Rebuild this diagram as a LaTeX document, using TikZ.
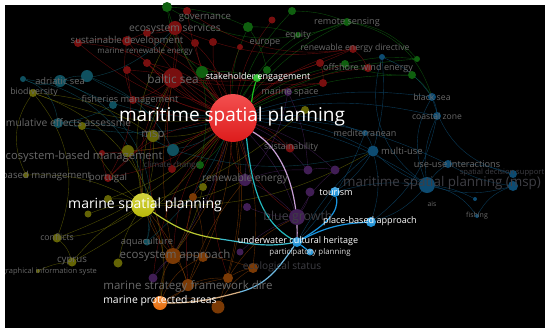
\documentclass[tikz,border=0pt]{standalone}
\usepackage{fontspec}
\setmainfont{Open Sans}
\definecolor{vred}{RGB}{240,30,30}
\definecolor{vgreen}{RGB}{30,190,30}
\definecolor{vblue}{RGB}{25,150,225}
\definecolor{vteal}{RGB}{30,160,190}
\definecolor{vyellow}{RGB}{200,200,10}
\definecolor{vpurple}{RGB}{130,60,170}
\definecolor{vorange}{RGB}{245,115,10}
\definecolor{lblgray}{RGB}{105,105,105}
\definecolor{lbldark}{RGB}{62,62,68}
\definecolor{tealink}{RGB}{35,185,190}
\definecolor{lavlink}{RGB}{200,160,215}
\definecolor{ylink}{RGB}{185,200,50}
\definecolor{clink}{RGB}{60,190,205}
\definecolor{olink}{RGB}{215,175,130}
\definecolor{blink}{RGB}{110,185,225}
\pgfdeclarelayer{back}
\pgfdeclarelayer{edges}
\pgfsetlayers{back,edges,main}

\begin{document}
\begin{tikzpicture}[x=1pt, y=-1pt,
	dot/.style={circle, inner sep=0pt, draw=none, fill=#1!50!black},
	hot/.style={circle, inner sep=0pt, draw=none, top color=#1!78!white, bottom color=#1!92!black},
	link/.style={#1!60!black, opacity=0.65, line width=0.4pt},
	hilink/.style={#1, line width=1.2pt},
	lbl/.style={inner sep=0pt, text=lblgray, font=\fontsize{#1}{#1}\selectfont},
	hl/.style={lbl=#1, text=white},
	faint/.style={lbl=#1, text=lbldark}]
	\useasboundingbox (0,0) rectangle (550,333);
	\begin{pgfonlayer}{back}
		\fill[white] (0,0) rectangle (550,333);
		\fill[black] (5,5) rectangle (545,328);
	\end{pgfonlayer}

	% red cluster
	\node[hot=vred, minimum size=48pt] (msplan) at (233,118) {};
	\node[dot=vred, minimum size=14pt] (esserv) at (175,28) {};
	\node[dot=vred, minimum size=20pt] (baltic) at (173,78) {};
	\node[dot=vred, minimum size=8pt] (gov) at (187,11) {};
	\node[dot=vred, minimum size=10pt] (susdev) at (127,41) {};
	\node[dot=vred, minimum size=8pt] (ra) at (78,43) {};
	\node[dot=vred, minimum size=8pt] (rb) at (147,33) {};
	\node[dot=vred, minimum size=8pt] (rc) at (195,43) {};
	\node[dot=vred, minimum size=8pt] (rd) at (213,42) {};
	\node[dot=vred, minimum size=6pt] (re) at (240,47) {};
	\node[dot=vred, minimum size=8pt] (rf) at (147,63) {};
	\node[dot=vred, minimum size=8pt] (rg) at (127,70) {};
	\node[dot=vred, minimum size=8pt] (fishm) at (133,100) {};
	\node[dot=vred, minimum size=8pt] (red) at (353,49) {};
	\node[dot=vred, minimum size=8pt] (rh) at (368,68) {};
	\node[dot=vred, minimum size=8pt] (ri) at (320,63) {};
	\node[dot=vred, minimum size=8pt] (rj) at (323,83) {};
	\node[dot=vred, minimum size=7pt] (rk) at (272,20) {};
	\node[dot=vred, minimum size=8pt] (portugal) at (108,178) {};
	\node[dot=vred, minimum size=6pt] (rl) at (102,153) {};
	\node[dot=vred, minimum size=8pt] (rm) at (172,169) {};
	\node[dot=vred, minimum size=9pt] (sust) at (290,148) {};
	% green cluster
	\node[hot=vgreen, minimum size=8pt] (stake) at (257,78) {};
	\node[dot=vgreen, minimum size=10pt] (ga) at (167,7) {};
	\node[dot=vgreen, minimum size=10pt] (gb) at (248,27) {};
	\node[dot=vgreen, minimum size=12pt] (gc) at (202,72) {};
	\node[dot=vgreen, minimum size=8pt] (gd) at (267,70) {};
	\node[dot=vgreen, minimum size=8pt] (ge) at (292,11) {};
	\node[dot=vgreen, minimum size=8pt] (remote) at (347,22) {};
	\node[dot=vgreen, minimum size=6pt] (equity) at (298,35) {};
	\node[dot=vgreen, minimum size=8pt] (offshore) at (345,64) {};
	\node[dot=vgreen, minimum size=6pt] (gf) at (417,59) {};
	\node[dot=vgreen, minimum size=8pt] (gg) at (412,75) {};
	\node[dot=vgreen, minimum size=8pt] (gh) at (200,165) {};
	% blue cluster
	\node[dot=vblue, minimum size=6pt] (ba) at (382,57) {};
	\node[dot=vblue, minimum size=8pt] (blacksea) at (432,97) {};
	\node[dot=vblue, minimum size=8pt] (coastal) at (437,116) {};
	\node[dot=vblue, minimum size=6pt] (medit) at (365,133) {};
	\node[dot=vblue, minimum size=11pt] (multiuse) at (373,151) {};
	\node[dot=vblue, minimum size=8pt] (useuse) at (448,164) {};
	\node[dot=vblue, minimum size=8pt] (sdss) at (513,174) {};
	\node[dot=vblue, minimum size=16pt] (mspmsp) at (427,185) {};
	\node[dot=vblue, minimum size=10pt] (bb) at (513,186) {};
	\node[dot=vblue, minimum size=4pt] (ais) at (475,199) {};
	\node[dot=vblue, minimum size=4pt] (fishing) at (477,216) {};
	\node[hot=vblue, minimum size=10pt] (tourism) at (335,192) {};
	\node[hot=vblue, minimum size=10pt] (place) at (371,222) {};
	\node[hot=vblue, minimum size=10pt] (uch) at (297,242) {};
	\node[hot=vblue, minimum size=7pt] (partic) at (310,252) {};
	% teal cluster
	\node[dot=vteal, minimum size=6pt] (ta) at (23,79) {};
	\node[dot=vteal, minimum size=12pt] (adriatic) at (60,81) {};
	\node[dot=vteal, minimum size=12pt] (tb) at (87,76) {};
	\node[dot=vteal, minimum size=8pt] (tc) at (113,105) {};
	\node[dot=vteal, minimum size=10pt] (cumul) at (58,123) {};
	\node[dot=vteal, minimum size=12pt] (te) at (173,150) {};
	\node[dot=vteal, minimum size=7pt] (aquac) at (147,242) {};
	% yellow cluster
	\node[hot=vyellow, minimum size=24pt] (mspl) at (143,205) {};
	\node[dot=vyellow, minimum size=8pt] (biodiv) at (33,93) {};
	\node[dot=vyellow, minimum size=8pt] (ya) at (82,126) {};
	\node[dot=vyellow, minimum size=12pt] (msp) at (153,136) {};
	\node[dot=vyellow, minimum size=12pt] (yb) at (128,151) {};
	\node[dot=vyellow, minimum size=6pt] (yc) at (26,175) {};
	\node[dot=vyellow, minimum size=8pt] (yd) at (108,199) {};
	\node[dot=vyellow, minimum size=8pt] (ye) at (203,187) {};
	\node[dot=vyellow, minimum size=9pt] (conflicts) at (57,238) {};
	\node[dot=vyellow, minimum size=9pt] (cyprus) at (72,262) {};
	\node[dot=vyellow, minimum size=4pt] (gis) at (38,271) {};
	\node[dot=vyellow, minimum size=9pt] (yf) at (118,263) {};
	\node[dot=vyellow, minimum size=7pt] (yg) at (88,214) {};
	\node[dot=vyellow, minimum size=8pt] (yh) at (305,110) {};
	% purple cluster
	\node[dot=vpurple, minimum size=8pt] (marsp) at (288,92) {};
	\node[dot=vpurple, minimum size=12pt] (renen) at (245,180) {};
	\node[dot=vpurple, minimum size=9pt] (pa) at (308,170) {};
	\node[dot=vpurple, minimum size=9pt] (pb) at (335,170) {};
	\node[dot=vpurple, minimum size=9pt] (pc) at (310,192) {};
	\node[dot=vpurple, minimum size=16pt] (bgrowth) at (297,217) {};
	\node[dot=vpurple, minimum size=8pt] (pd) at (247,207) {};
	\node[dot=vpurple, minimum size=9pt] (pe) at (153,278) {};
	\node[dot=vpurple, minimum size=7pt] (pf) at (240,252) {};
	% orange cluster
	\node[dot=vorange, minimum size=8pt] (oa) at (193,197) {};
	\node[dot=vorange, minimum size=16pt] (ecoapp) at (173,256) {};
	\node[dot=vorange, minimum size=10pt] (ob) at (203,257) {};
	\node[dot=vorange, minimum size=12pt] (oc) at (188,285) {};
	\node[dot=vorange, minimum size=10pt] (od) at (228,278) {};
	\node[dot=vorange, minimum size=10pt] (oe) at (253,268) {};
	\node[dot=vorange, minimum size=13pt] (of) at (218,307) {};
	\node[hot=vorange, minimum size=14pt] (mpa) at (160,303) {};

	\coordinate (mida) at (220,239);
	\coordinate (midb) at (240,292);

	\begin{pgfonlayer}{edges}
		\foreach \n/\c in {esserv/vred, baltic/vred, susdev/vred, gov/vred, ra/vred, rb/vred, rc/vred, rd/vred, re/vred, rf/vred, rg/vred, fishm/vred, red/vred, rh/vred, ri/vred, rj/vred, rk/vred, portugal/vred, rl/vred, rm/vred, sust/vred, ga/vgreen, gb/vgreen, gc/vgreen, gd/vgreen, ge/vgreen, remote/vgreen, equity/vgreen, offshore/vgreen, gf/vgreen, gg/vgreen, gh/vgreen, blacksea/vblue, coastal/vblue, medit/vblue, multiuse/vblue, useuse/vblue, mspmsp/vblue, adriatic/vteal, tb/vteal, cumul/vteal, te/vteal, aquac/vteal, biodiv/vyellow, msp/vyellow, yb/vyellow, conflicts/vyellow, cyprus/vyellow, yd/vyellow, renen/vpurple, pa/vpurple, pb/vpurple, bgrowth/vpurple, pe/vpurple, ecoapp/vorange, oa/vorange, oc/vorange, od/vorange, oe/vorange, of/vorange}
			\draw[link=\c] (msplan) to[bend left=12] (\n);
		\foreach \n/\c in {esserv/vred, baltic/vred, susdev/vred, rf/vred, rg/vred, fishm/vred, portugal/vred, rm/vred, gc/vgreen, ecoapp/vorange, oc/vorange, od/vorange, renen/vpurple, bgrowth/vpurple, pe/vpurple}
			\draw[link=vred] (msplan) to[bend right=18] (\n);
		\foreach \a/\b/\c/\k in {adriatic/ta/vteal/20, adriatic/tb/vteal/10, ta/cumul/vteal/30, cumul/te/vteal/15, adriatic/aquac/vteal/40, tb/te/vteal/20, tc/cumul/vteal/10, ta/aquac/vteal/45, te/multiuse/vteal/-15, biodiv/conflicts/vyellow/30, biodiv/msp/vyellow/15, msp/mspl/vyellow/10, yb/mspl/vyellow/10, ya/mspl/vyellow/-10, yc/mspl/vyellow/15, conflicts/mspl/vyellow/-15, cyprus/mspl/vyellow/10, gis/cyprus/vyellow/10, yf/mspl/vyellow/10, conflicts/cyprus/vyellow/15, ye/ecoapp/vyellow/10, yd/mspl/vyellow/10, yg/mspl/vyellow/10, mspl/renen/vyellow/-10, mspl/esserv/vyellow/20, mspl/baltic/vyellow/15, mspl/ecoapp/vorange/-10, mspl/mpa/vorange/20, mspl/oc/vorange/10, mspl/multiuse/vyellow/-15, mspl/yh/vyellow/-10, biodiv/yc/vyellow/-30, ga/gb/vgreen/10, gb/gd/vgreen/10, gd/remote/vgreen/15, ge/remote/vgreen/10, remote/gf/vgreen/20, offshore/gf/vgreen/10, offshore/gg/vgreen/-10, gc/stake/vgreen/10, ga/gc/vgreen/-20, gb/equity/vgreen/10, gg/blacksea/vgreen/10, remote/blacksea/vgreen/30, ga/remote/vgreen/-25, gc/gh/vgreen/10, esserv/baltic/vred/10, susdev/esserv/vred/10, ra/susdev/vred/10, rb/esserv/vred/-10, baltic/rf/vred/10, baltic/fishm/vred/10, baltic/red/vred/-15, red/rh/vred/10, ri/rj/vred/10, esserv/red/vred/-15, baltic/offshore/vred/-15, sust/baltic/vred/10, portugal/rl/vred/10, gov/red/vred/-20, rg/portugal/vred/20, rm/baltic/vred/10, baltic/mspl/vred/-20, esserv/portugal/vred/25, ra/baltic/vred/15, rb/rj/vred/-20, baltic/ecoapp/vred/-25, susdev/fishm/vred/-15, mspmsp/multiuse/vblue/10, mspmsp/useuse/vblue/10, useuse/sdss/vblue/10, useuse/bb/vblue/-10, sdss/bb/vblue/30, mspmsp/bb/vblue/-15, mspmsp/ais/vblue/10, mspmsp/fishing/vblue/20, fishing/bb/vblue/20, coastal/mspmsp/vblue/-15, blacksea/coastal/vblue/10, blacksea/mspmsp/vblue/-25, medit/multiuse/vblue/10, multiuse/tourism/vblue/10, multiuse/place/vblue/15, ba/blacksea/vblue/15, ba/multiuse/vblue/10, coastal/place/vblue/20, mspmsp/place/vblue/15, multiuse/uch/vblue/-10, medit/uch/vblue/10, tourism/mspmsp/vblue/10, blacksea/sdss/vblue/-30, ba/mspmsp/vblue/-35, renen/pa/vpurple/10, pa/pb/vpurple/10, pc/bgrowth/vpurple/10, bgrowth/pd/vpurple/10, renen/bgrowth/vpurple/10, marsp/pa/vpurple/10, pe/ecoapp/vpurple/10, pf/bgrowth/vpurple/10, pb/bgrowth/vpurple/-10, marsp/renen/vpurple/15, ecoapp/ob/vorange/10, ecoapp/oc/vorange/10, oc/od/vorange/10, od/oe/vorange/10, oa/ecoapp/vorange/10, mpa/of/vorange/20, mpa/oc/vorange/-10, mpa/ecoapp/vorange/15, of/oe/vorange/15, oe/ecoapp/vorange/-10, oc/renen/vorange/10, mpa/od/vorange/10, ecoapp/baltic/vorange/10, oa/ob/vorange/10, ob/mpa/vorange/-20, od/bgrowth/vorange/15, biodiv/mpa/vyellow/40, adriatic/esserv/vteal/-20}
			\draw[link=\c] (\a) to[bend left=\k] (\b);
		% links of underwater cultural heritage
		\draw[hilink=vgreen] (stake) to[bend right=5] (msplan.40);
		\draw[hilink=tealink] (msplan.-56) .. controls (252,190) and (262,222) .. (uch);
		\draw[hilink=lavlink] (msplan.-35) .. controls (285,150) and (298,195) .. (uch);
		\draw[hilink=ylink] (mspl) to[out=-35, in=172] (mida);
		\draw[hilink=clink] (mida) to[out=-8, in=190] (uch);
		\draw[hilink=olink] (mpa) to[out=0, in=195] (midb);
		\draw[hilink=blink] (midb) to[out=15, in=-125] (uch);
		\draw[hilink=vblue] (uch) .. controls (325,225) and (340,212) .. (tourism);
		\draw[hilink=vblue] (uch) to[bend left=12] (place);
		\draw[hilink=vblue] (uch) -- (partic);
	\end{pgfonlayer}

	\begin{scope}
		\clip (5,5) rectangle (545,328);
		\node[lbl=9.6pt] (l-gov) at (205,18) {governance};
		\node[lbl=10.3pt] (l-esserv) at (175,29) {ecosystem services};
		\node[lbl=9.6pt] (l-susdev) at (127,41) {sustainable development};
		\node[lbl=8pt] (l-mre) at (145,51) {marine renewable energy};
		\node[lbl=9.2pt] (l-europe) at (265,43) {europe};
		\node[lbl=11.8pt] (l-baltic) at (173,79) {baltic sea};
		\node[lbl=9.3pt] (l-adriatic) at (60,81) {adriatic sea};
		\node[lbl=8.8pt] (l-biodiv) at (34,92) {biodiversity};
		\node[lbl=9.3pt] (l-fishm) at (130,100) {fisheries management};
		\node[lbl=9.1pt] (l-remote) at (347,22) {remote sensing};
		\node[lbl=8.8pt] (l-equity) at (298,35) {equity};
		\node[lbl=8.7pt] (l-red) at (355,48) {renewable energy directive};
		\node[lbl=9.1pt] (l-offshore) at (368,68) {offshore wind energy};
		\node[lbl=9.1pt] (l-marsp) at (290,92) {marine space};
		\node[lbl=8.7pt] (l-blacksea) at (432,97) {black sea};
		\node[lbl=10.3pt] (l-cumul) at (63,123) {cumulative effects assessme};
		\node[lbl=11.4pt] (l-msp) at (153,136) {msp};
		\node[lbl=11.2pt] (l-ebm) at (81,157) {ecosystem-based management};
		\node[lbl=9.6pt] (l-abm) at (35,176) {area-based management};
		\node[lbl=9.7pt] (l-portugal) at (108,178) {portugal};
		\node[faint=8pt] (l-cc) at (172,165) {climate change};
		\node[lbl=10.3pt] (l-renen) at (245,179) {renewable energy};
		\node[lbl=8.6pt] (l-coastal) at (437,116) {coastal zone};
		\node[lbl=9pt] (l-medit) at (365,133) {mediterranean};
		\node[lbl=8.8pt] (l-sust) at (291,147) {sustainability};
		\node[lbl=9.5pt] (l-multiuse) at (402,151) {multi-use};
		\node[lbl=9.2pt] (l-useuse) at (457,164) {use-use interactions};
		\node[faint=7.6pt] (l-sdss) at (502,173) {spatial decision support};
		\node[faint=13.4pt] (l-mspmsp) at (442,183) {maritime spatial planning (msp)};
		\node[lbl=6.8pt] (l-ais) at (432,204) {ais};
		\node[lbl=7pt] (l-fishing) at (477,216) {fishing};
		\node[faint=12.4pt] (l-bgrowth) at (298,217) {blue growth};
		\node[faint=10.2pt] (l-ecost) at (282,267) {ecological status};
		\node[lbl=8.7pt] (l-conflicts) at (57,237) {conflicts};
		\node[lbl=9.3pt] (l-aquac) at (147,242) {aquaculture};
		\node[lbl=11.5pt] (l-ecoapp) at (175,256) {ecosystem approach};
		\node[lbl=9.7pt] (l-cyprus) at (72,261) {cyprus};
		\node[lbl=7.5pt] (l-gis) at (43,272) {geographical information syste};
		\node[lbl=11.5pt] (l-msfd) at (188,286) {marine strategy framework dire};
		% highlighted labels
		\node[hl=19pt] (l-msplan) at (232,117) {maritime spatial planning};
		\node[hl=14pt] (l-mspl) at (145,205) {marine spatial planning};
		\node[hl=9pt] (l-stake) at (258,77) {stakeholder engagement};
		\node[hl=9.1pt] (l-tourism) at (336,192) {tourism};
		\node[hl=9.1pt] (l-place) at (370,221) {place-based approach};
		\node[hl=9pt] (l-uch) at (298,241) {underwater cultural heritage};
		\node[hl=7.9pt, text=white!85!black] (l-partic) at (310,252) {participatory planning};
		\node[hl=10.4pt] (l-mpa) at (160,301) {marine protected areas};
	\end{scope}
\end{tikzpicture}
\end{document}
